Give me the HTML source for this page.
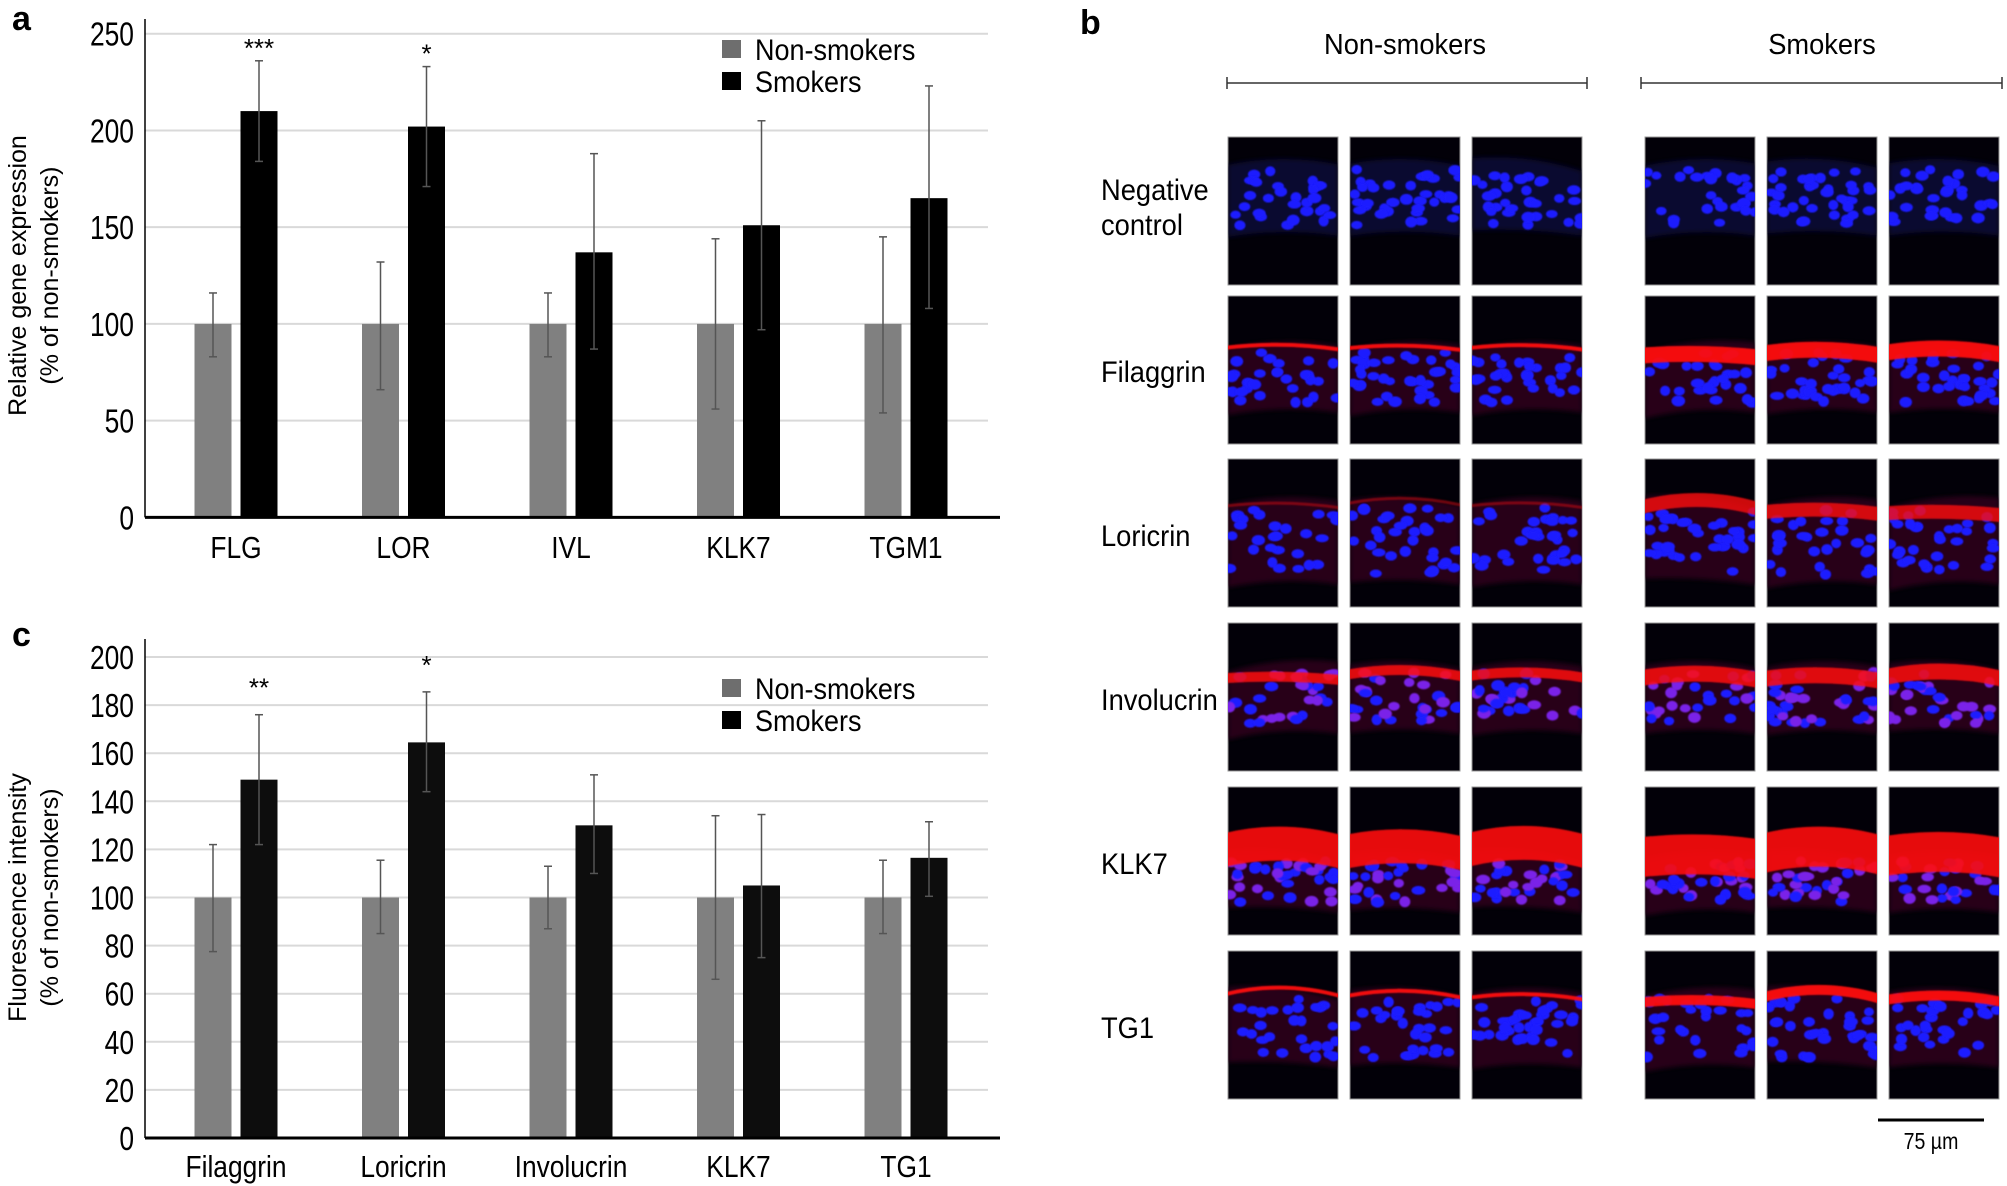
<!DOCTYPE html>
<html><head><meta charset="utf-8"><style>
html,body{margin:0;padding:0;background:#fff}
svg{display:block;font-family:"Liberation Sans",Arial,sans-serif}
</style></head><body>
<svg id="fig" width="2007" height="1186" viewBox="0 0 2007 1186" xmlns="http://www.w3.org/2000/svg">
<defs>
<filter id="blur1" x="-20%" y="-50%" width="140%" height="200%"><feGaussianBlur stdDeviation="2.5"/></filter>
<filter id="blur0" x="-20%" y="-50%" width="140%" height="200%"><feGaussianBlur stdDeviation="0.8"/></filter>
</defs>
<g id="chartA"></g>
<g id="chartC"></g>
<g id="panelB"></g>
</svg>
<script>
// ---- Chart a data ----
const catsA = ["FLG","LOR","IVL","KLK7","TGM1"];
const nonA = [100,100,100,100,100];
const nonAErrLo = [83,66,83,56,54];
const nonAErrHi = [116,132,116,144,145];
const smkA = [210,202,137,151,165];
const smkAErrLo = [184,171,87,97,108];
const smkAErrHi = [236,233,188,205,223];
const ticksA = [0,50,100,150,200,250];
const starsA = ["***","*","","",""];
// ---- Chart c data ----
const catsC = ["Filaggrin","Loricrin","Involucrin","KLK7","TG1"];
const nonC = [100,100,100,100,100];
const nonCErrLo = [77.5,85,87,66,85];
const nonCErrHi = [122,115.5,113,134,115.5];
const smkC = [149,164.5,130,105,116.5];
const smkCErrLo = [122,144,110,75,100.5];
const smkCErrHi = [176,185.5,151,134.5,131.5];
const ticksC = [0,20,40,60,80,100,120,140,160,180,200];
const starsC = ["**","*","","",""];

const NS="http://www.w3.org/2000/svg";
function mk(tag,attrs,parent,txt){const e=document.createElementNS(NS,tag);for(const k in attrs)e.setAttribute(k,attrs[k]);if(txt!==undefined)e.textContent=txt;parent.appendChild(e);return e;}
// condensed text
function ct(parent,x,y,t,size,sx,anchor){return mk('text',{transform:`translate(${x},${y}) scale(${sx},1)`,x:0,y:0,'font-size':size,'text-anchor':anchor||'start'},parent,t);}

function drawChart(g,o){
  const x0=145;
  const y=v=>o.yZero-(v-0)*(o.yZero-o.yTop)/o.max;
  const xc=i=>236+i*167.5;
  const bw=37, gap=9;
  o.ticks.forEach(t=>{
    if(t>0){const gl=mk('line',{x1:x0,x2:988,y1:y(t),y2:y(t),stroke:'#d9d9d9','stroke-width':2},g);
    
    }
    const tl=ct(g,134,y(t)+12,String(t),33,0.8,'end');
    
    
  });
  const ya=mk('line',{x1:x0,x2:x0,y1:o.axTop,y2:o.yZero,stroke:'#000','stroke-width':1.5},g);
  
  
  o.cats.forEach((c,i)=>{
    const xn=xc(i)-gap/2-bw, xs=xc(i)+gap/2;
    const b1=mk('rect',{x:xn,y:y(o.non[i]),width:bw,height:o.yZero-y(o.non[i]),fill:'#808080'},g);
    
    
    const b2=mk('rect',{x:xs,y:y(o.smk[i]),width:bw,height:o.yZero-y(o.smk[i]),fill:o.smkColor},g);
    
    
    [[xn+bw/2,o.nLo[i],o.nHi[i]],[xs+bw/2,o.sLo[i],o.sHi[i]]].forEach(([cx,lo,hi])=>{
      const eg=mk('g',{stroke:'#555','stroke-width':1.5},g);
      
      
      mk('line',{x1:cx,x2:cx,y1:y(lo),y2:y(hi)},eg);
      mk('line',{x1:cx-4,x2:cx+4,y1:y(lo),y2:y(lo)},eg);
      mk('line',{x1:cx-4,x2:cx+4,y1:y(hi),y2:y(hi)},eg);
    });
    if(o.stars[i]){const st=mk('text',{x:xs+bw/2,y:y(o.sHi[i])-o.starOff,'text-anchor':'middle','font-size':26},g,o.stars[i]);
      
      }
    const xl=ct(g,xc(i),o.xLabY,c,31,0.85,'middle');
    
    
  });
  const xa=mk('line',{x1:x0,x2:1000,y1:o.yZero,y2:o.yZero,stroke:'#000','stroke-width':3},g);
  
  
  const cy=(o.yTop+o.yZero)/2;
  const yt=mk('text',{transform:`translate(26,${cy}) rotate(-90)`,'text-anchor':'middle','font-size':25},g,o.title1);
  
  
  const yt2=mk('text',{transform:`translate(58,${cy}) rotate(-90)`,'text-anchor':'middle','font-size':25},g,'(% of non-smokers)');
  
  
  const lg=mk('g',{},g);
  
  
  [['Non-smokers','#6e6e6e',o.legY],['Smokers','#000',o.legY+32]].forEach(([t,col,ly])=>{
    const le=mk('g',{},lg);
    
    
    mk('rect',{x:722,y:ly-9,width:19,height:18,fill:col},le);
    ct(le,755,ly+11,t,30,0.9,'start');
  });
  const pl=mk('text',{x:12,y:o.letterY,'font-size':34,'font-weight':'bold'},g,o.letter);
  
  
}

drawChart(document.getElementById('chartA'),{cats:catsA,non:nonA,smk:smkA,nLo:nonAErrLo,nHi:nonAErrHi,sLo:smkAErrLo,sHi:smkAErrHi,ticks:ticksA,stars:starsA,max:250,yTop:33.7,yZero:517.4,axTop:19,xLabY:558,smkColor:'#000',title1:'Relative gene expression',legY:49,letter:'a',letterY:30,starOff:4});
drawChart(document.getElementById('chartC'),{cats:catsC,non:nonC,smk:smkC,nLo:nonCErrLo,nHi:nonCErrHi,sLo:smkCErrLo,sHi:smkCErrHi,ticks:ticksC,stars:starsC,max:200,yTop:657,yZero:1138,axTop:639,xLabY:1177,smkColor:'#0d0d0d',title1:'Fluorescence intensity',legY:688,letter:'c',letterY:646,starOff:18});

// ---- Panel b ----
const pb=document.getElementById('panelB');
function T(x,y,t,size,anchor,name,sx){const e=ct(pb,x,y,t,size,sx||1,anchor);return e;}
T(1080,34,'b',34,'start','panel-label').setAttribute('font-weight','bold');
T(1405,54,'Non-smokers',29,'middle','group-label-non-smokers',0.94);
T(1822,54,'Smokers',29,'middle','group-label-smokers',0.94);
[[1227,1587],[1641,2002]].forEach(([a,b])=>{
  const br=mk('g',{stroke:'#333','stroke-width':1.5},pb);
  
  
  mk('line',{x1:a,x2:b,y1:83,y2:83},br);mk('line',{x1:a,x2:a,y1:77,y2:89},br);mk('line',{x1:b,x2:b,y1:77,y2:89},br);
});
const rowNames=[['Negative','control'],['Filaggrin'],['Loricrin'],['Involucrin'],['KLK7'],['TG1']];
const rowY=[137,296,459,623,787,951];
const colX=[1228,1350,1472,1645,1767,1889];
const PW=110, PH=148;
const labelY=[[200,235],[382],[546],[710],[874],[1038]];
rowNames.forEach((ls,r)=>ls.forEach((l,k)=>T(1101,labelY[r][k],l,30,'start','row-label',0.91)));
let seed=7;function rnd(){seed=(seed*1103515245+12345)%2147483648;return seed/2147483648;}
const rp=[[0,0,0,0,0.22,0.6],[0.33,4,16,0.95,0.38,0.72],[0.3,3,14,0.8,0.33,0.78],[0.32,10,16,0.85,0.33,0.68],[0.33,34,40,0.9,0.5,0.78],[0.3,4,10,0.95,0.32,0.72]];
rowY.forEach((ry,r)=>colX.forEach((cx,c)=>{
  const smk=c>=3;
  const g=mk('g',{},pb);
  
  
  const cid='clip'+r+'_'+c;
  const cp=mk('clipPath',{id:cid},g);mk('rect',{x:cx,y:ry,width:PW,height:PH},cp);
  mk('rect',{x:cx,y:ry,width:PW,height:PH,fill:'#020008',stroke:'#999','stroke-width':1},g);
  const inner=mk('g',{'clip-path':`url(#${cid})`},g);
  const p=rp[r];
  const wob=(rnd()-0.5)*12;
  mk('path',{d:`M${cx} ${ry+p[4]*PH-6+wob} Q${cx+55} ${ry+p[4]*PH-16} ${cx+110} ${ry+p[4]*PH-4-wob} L${cx+110} ${ry+p[5]*PH+10} Q${cx+55} ${ry+p[5]*PH+2} ${cx} ${ry+p[5]*PH+10+wob} Z`,fill:r===0?'#0a0a3a':'#30061e',opacity:0.8,filter:'url(#blur1)'},inner);
  const n=28+Math.floor(rnd()*10);
  for(let i=0;i<n;i++){
    const ex=cx+rnd()*PW, ey=ry+(p[4]+rnd()*(p[5]-p[4]))*PH;
    mk('ellipse',{cx:ex,cy:ey,rx:5+rnd()*2,ry:4+rnd()*1.5,fill:(r===4||r===3)&&rnd()<0.5?'#7a20e8':'#1a1aff',filter:'url(#blur0)'},inner);
  }
  if(r>0){
    const th=smk?p[2]:p[1];
    const yy=ry+p[0]*PH+wob*0.5;
    mk('path',{d:`M${cx-5} ${yy} Q${cx+55} ${yy-10+wob} ${cx+115} ${yy+2} L${cx+115} ${yy+2+th} Q${cx+55} ${yy-10+wob+th} ${cx-5} ${yy+th} Z`,fill:'#ff1010',opacity:p[3]*(r===2&&!smk?0.5:1),filter:'url(#blur0)'},inner);
  }
}));
const sb=mk('line',{x1:1878,x2:1984,y1:1120,y2:1120,stroke:'#000','stroke-width':3},pb);


T(1931,1149,'75 µm',23,'middle','scale-bar-label',0.85);
</script>
</body></html>
